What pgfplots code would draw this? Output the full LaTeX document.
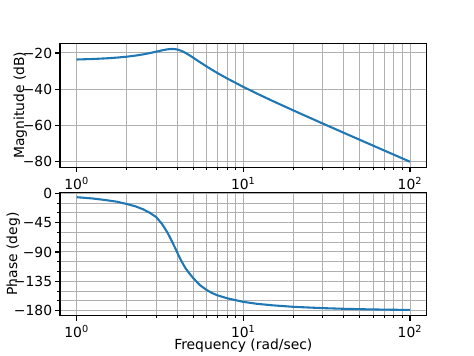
\documentclass[border=0pt]{standalone}
\usepackage{pgfplots}
\usepackage{pgfplotstable}
\pgfplotsset{compat=1.18}
\usepackage{fontspec}
\setmainfont{DejaVu Sans}
\definecolor{mplblue}{HTML}{1F77B4}
\definecolor{gridc}{HTML}{B0B0B0}
\pgfplotstableread{
w mag phase
1 -23.60 -6.0
1.25 -23.32 -8.0
1.5 -22.97 -10.5
1.75 -22.54 -13.0
2 -22.04 -16.5
2.25 -21.46 -20.0
2.5 -20.79 -24.5
2.75 -20.06 -30.0
3 -19.29 -36.5
3.25 -18.56 -47.0
3.5 -18.00 -60.0
3.6 -17.86 -66.0
3.75 -17.78 -75.0
3.9 -17.89 -84.0
4 -18.06 -90.0
4.1 -18.32 -96.0
4.25 -18.84 -104.0
4.5 -19.96 -115.0
4.75 -21.25 -123.0
5 -22.58 -130.0
5.5 -25.11 -141.0
6 -27.36 -148.0
6.5 -29.33 -153.0
7 -31.09 -156.5
8 -34.08 -161.0
10 -38.72 -166.5
12 -42.29 -169.4
15 -46.49 -171.8
20 -51.73 -174.1
30 -58.95 -176.1
40 -64.01 -177.1
50 -67.91 -177.7
70 -73.78 -178.4
100 -79.99 -178.85
}\bodedata
\begin{document}
\begin{tikzpicture}
\pgfplotsset{
  bodestyle/.style={
    scale only axis, width=264pt,
    xmin=0.7943, xmax=125.89,
    xtick={1,10,100},
    xticklabels={10\textsuperscript{0},10\textsuperscript{1},10\textsuperscript{2}},
    tick pos=left, tick align=outside,
    major tick length=3.5pt, minor tick length=2pt,
    every tick/.style={black, line width=0.8pt},
    every minor tick/.style={black, line width=0.6pt},
    axis line style={black, line width=0.8pt},
    xmajorgrids, xminorgrids, ymajorgrids,
    major grid style={gridc, line width=0.7pt},
    minor grid style={gridc, line width=0.7pt},
    tick label style={font=\fontsize{10}{12}\selectfont},
    yticklabel style={inner xsep=2pt},
    label style={font=\fontsize{10}{12}\selectfont},
    every axis x label/.style={at={(axis description cs:0.5,0)}, anchor=center, yshift=-21.6pt},
  }
}
\useasboundingbox (0,0) rectangle (341.28pt,255.6pt);
\begin{axis}[xmode=log, bodestyle, at={(43.2pt,135.1pt)}, anchor=south west, height=89.28pt,
  ymin=-83.1, ymax=-14.7,
  ytick={-80,-60,-40,-20}, yticklabels={−80,−60,−40,−20},
  every axis y label/.style={at={(axis description cs:0,0.5)}, rotate=90, anchor=center, yshift=28.6pt},
  ylabel={Magnitude (dB)}]
\addplot[mplblue, line width=1.5pt] table[x=w, y=mag] {\bodedata};
\end{axis}
\begin{axis}[xmode=log, bodestyle, at={(43.2pt,28.3pt)}, anchor=south west, height=88.85pt,
  ymin=-187.7, ymax=1.5,
  ytick={-180,-135,-90,-45,0}, yticklabels={−180,−135,−90,−45,0},
  minor ytick={-165,-150,-120,-105,-75,-60,-30,-15},
  yminorgrids,
  every axis y label/.style={at={(axis description cs:0,0.5)}, rotate=90, anchor=center, yshift=33.6pt},
  ylabel={Phase (deg)}, xlabel={Frequency (rad/sec)}]
\addplot[mplblue, line width=1.5pt] table[x=w, y=phase] {\bodedata};
\end{axis}
\end{tikzpicture}
\end{document}
